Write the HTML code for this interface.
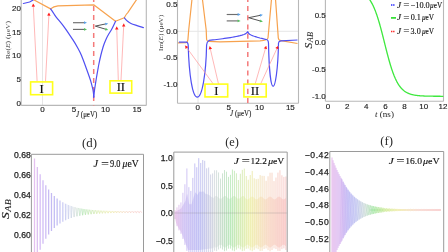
<!DOCTYPE html>
<html><head><meta charset="utf-8"><title>figure</title>
<style>html,body{margin:0;padding:0;background:#fff;width:448px;height:252px;overflow:hidden} svg{display:block}</style>
</head><body><svg width="448" height="252" viewBox="0 0 448 252"><rect width="448" height="252" fill="#fff"/><line x1="42.50" y1="0.00" x2="42.50" y2="105.40" stroke="#e6e6e6" stroke-width="1" />
<line x1="21.20" y1="-1.00" x2="21.20" y2="105.40" stroke="#b8b8b8" stroke-width="1.1" />
<line x1="21.20" y1="105.40" x2="146.30" y2="105.40" stroke="#b8b8b8" stroke-width="1.1" />
<line x1="146.30" y1="-1.00" x2="146.30" y2="105.40" stroke="#b8b8b8" stroke-width="1.1" />
<text x="21.00" y="8.60" font-size="8.0" text-anchor="end" dominant-baseline="central" style="font-family:'Liberation Sans',sans-serif;" fill="#222" stroke="#222" stroke-width="0.15">20</text>
<text x="21.00" y="32.40" font-size="8.0" text-anchor="end" dominant-baseline="central" style="font-family:'Liberation Sans',sans-serif;" fill="#222" stroke="#222" stroke-width="0.15">15</text>
<text x="21.00" y="55.70" font-size="8.0" text-anchor="end" dominant-baseline="central" style="font-family:'Liberation Sans',sans-serif;" fill="#222" stroke="#222" stroke-width="0.15">10</text>
<text x="21.00" y="79.50" font-size="8.0" text-anchor="end" dominant-baseline="central" style="font-family:'Liberation Sans',sans-serif;" fill="#222" stroke="#222" stroke-width="0.15">5</text>
<text x="21.00" y="103.00" font-size="8.0" text-anchor="end" dominant-baseline="central" style="font-family:'Liberation Sans',sans-serif;" fill="#222" stroke="#222" stroke-width="0.15">0</text>
<text x="42.50" y="109.80" font-size="8.0" text-anchor="middle" dominant-baseline="central" style="font-family:'Liberation Sans',sans-serif;" fill="#222" stroke="#222" stroke-width="0.15">0</text>
<text x="74.00" y="109.80" font-size="8.0" text-anchor="middle" dominant-baseline="central" style="font-family:'Liberation Sans',sans-serif;" fill="#222" stroke="#222" stroke-width="0.15">5</text>
<text x="105.50" y="109.80" font-size="8.0" text-anchor="middle" dominant-baseline="central" style="font-family:'Liberation Sans',sans-serif;" fill="#222" stroke="#222" stroke-width="0.15">10</text>
<text x="137.00" y="109.80" font-size="8.0" text-anchor="middle" dominant-baseline="central" style="font-family:'Liberation Sans',sans-serif;" fill="#222" stroke="#222" stroke-width="0.15">15</text>
<text x="76.00" y="117.40" font-size="7.3" text-anchor="start" style="font-family:'Liberation Serif',serif" fill="#222" textLength="21.30" lengthAdjust="spacingAndGlyphs" stroke="#222" stroke-width="0.12"><tspan font-style="italic">J</tspan> (μeV)</text>
<text transform="translate(10.40,40.00) rotate(-90)" x="0" y="0" font-size="6.8" text-anchor="middle" style="font-family:'Liberation Serif',serif" fill="#444" stroke="#444" stroke-width="0" textLength="38.10" lengthAdjust="spacingAndGlyphs">Re(<tspan font-style="italic">E</tspan>) (μeV)</text>
<line x1="93.70" y1="0.00" x2="93.70" y2="105.40" stroke="#f47a7a" stroke-width="1.5" stroke-dasharray="5.0 4.00" stroke-dashoffset="3.00"/>
<polyline points="23.40,3.50 29.60,2.00 33.20,0.00" fill="none" stroke="#4f4ff2" stroke-width="1.2" stroke-linejoin="round" stroke-linecap="round" />
<polyline points="33.20,-0.50 50.60,8.90" fill="none" stroke="#f7a24e" stroke-width="1.2" stroke-linejoin="round" stroke-linecap="round" />
<path d="M50.6,8.9 Q53.5,6.3 58,5.9 L93.7,4.8 L115.5,21.2 L124.3,17.7 C125.5,15.5 126.5,13.8 127.8,12.6 L137,-1" fill="none" stroke="#f7a24e" stroke-width="1.2" stroke-linejoin="round"/>
<path d="M50.60,8.90 C51.00,9.47 52.10,10.98 53.00,12.30 C53.90,13.62 54.03,14.22 56.00,16.80 C57.97,19.38 62.00,23.98 64.80,27.80 C67.60,31.62 70.68,36.42 72.80,39.70 C74.92,42.98 76.05,44.87 77.50,47.50 C78.95,50.13 79.93,51.75 81.50,55.50 C83.07,59.25 85.42,65.92 86.90,70.00 C88.38,74.08 89.58,77.50 90.40,80.00 C91.22,82.50 91.38,83.42 91.80,85.00 C92.22,86.58 92.62,88.08 92.90,89.50 C93.18,90.92 93.37,92.22 93.50,93.50 C93.63,94.78 93.67,96.58 93.70,97.20" fill="none" stroke="#4f4ff2" stroke-width="1.2" stroke-linejoin="round" stroke-linecap="round"/>
<path d="M93.70,97.20 C93.85,95.92 94.33,91.53 94.60,89.50 C94.87,87.47 95.00,86.92 95.30,85.00 C95.60,83.08 95.98,80.50 96.40,78.00 C96.82,75.50 97.38,72.33 97.80,70.00 C98.22,67.67 98.38,66.50 98.90,64.00 C99.42,61.50 100.25,57.67 100.90,55.00 C101.55,52.33 102.25,49.87 102.80,48.00 C103.35,46.13 103.60,45.38 104.20,43.80 C104.80,42.22 105.62,40.17 106.40,38.50 C107.18,36.83 107.95,35.47 108.90,33.80 C109.85,32.13 111.00,30.57 112.10,28.50 C113.20,26.43 114.93,22.58 115.50,21.40" fill="none" stroke="#4f4ff2" stroke-width="1.2" stroke-linejoin="round" stroke-linecap="round"/>
<path d="M124.40,17.90 C124.93,18.47 126.50,20.37 127.60,21.30 C128.70,22.23 129.43,22.78 131.00,23.50 C132.57,24.22 134.93,24.92 137.00,25.60 C139.07,26.28 142.33,27.27 143.40,27.60" fill="none" stroke="#4f4ff2" stroke-width="1.2" stroke-linejoin="round" stroke-linecap="round"/>
<line x1="37.10" y1="81.40" x2="33.20" y2="3.70" stroke="#ff9a9a" stroke-width="0.7" />
<polygon points="33.20,3.70 35.09,6.51 31.60,6.68" fill="#ff1a1a"/>
<line x1="45.50" y1="81.40" x2="49.00" y2="12.80" stroke="#ff9a9a" stroke-width="0.7" />
<polygon points="49.00,12.80 50.60,15.79 47.10,15.61" fill="#ff1a1a"/>
<line x1="118.30" y1="80.00" x2="116.70" y2="26.60" stroke="#ff9a9a" stroke-width="0.7" />
<polygon points="116.70,26.60 118.54,29.45 115.04,29.55" fill="#ff1a1a"/>
<line x1="121.00" y1="80.00" x2="123.80" y2="23.60" stroke="#ff9a9a" stroke-width="0.7" />
<polygon points="123.80,23.60 125.40,26.58 121.91,26.41" fill="#ff1a1a"/>
<rect x="30.60" y="81.90" width="22.00" height="12.80" fill="none" stroke="#ffff1a" stroke-width="1.6"/>
<text x="41.60" y="92.50" font-size="12.6" text-anchor="middle" style="font-family:'Liberation Serif',serif" fill="#111" stroke="#111" stroke-width="0.18">I</text>
<rect x="110.00" y="80.80" width="21.70" height="12.30" fill="none" stroke="#ffff1a" stroke-width="1.6"/>
<text x="120.85" y="91.15" font-size="12.6" text-anchor="middle" style="font-family:'Liberation Serif',serif" fill="#111" stroke="#111" stroke-width="0.18">II</text>
<line x1="73.00" y1="22.70" x2="84.40" y2="22.70" stroke="#6e6e6e" stroke-width="1.15" />
<polygon points="87.00,22.70 84.00,21.30 84.00,24.10" fill="#5aa0e6"/>
<line x1="73.00" y1="29.40" x2="84.40" y2="29.40" stroke="#6e6e6e" stroke-width="1.15" />
<polygon points="87.00,29.40 84.00,28.00 84.00,30.80" fill="#55c060"/>
<line x1="95.30" y1="26.10" x2="105.66" y2="23.93" stroke="#555" stroke-width="1.0" />
<polygon points="108.20,23.40 105.55,25.38 104.98,22.64" fill="#5aa0e6"/>
<line x1="95.30" y1="26.10" x2="105.71" y2="29.25" stroke="#555" stroke-width="1.0" />
<polygon points="108.20,30.00 104.92,30.47 105.73,27.79" fill="#55c060"/>
<line x1="177.50" y1="31.30" x2="298.50" y2="31.30" stroke="#e6e6e6" stroke-width="1" />
<line x1="198.00" y1="0.00" x2="198.00" y2="103.30" stroke="#e6e6e6" stroke-width="1" />
<line x1="177.50" y1="-1.00" x2="177.50" y2="103.30" stroke="#b8b8b8" stroke-width="1.1" />
<line x1="177.50" y1="103.30" x2="298.50" y2="103.30" stroke="#b8b8b8" stroke-width="1.1" />
<line x1="298.50" y1="-1.00" x2="298.50" y2="103.30" stroke="#b8b8b8" stroke-width="1.1" />
<text x="177.40" y="4.10" font-size="8.0" text-anchor="end" dominant-baseline="central" style="font-family:'Liberation Sans',sans-serif;" fill="#222" stroke="#222" stroke-width="0.15">0.5</text>
<text x="177.40" y="31.00" font-size="8.0" text-anchor="end" dominant-baseline="central" style="font-family:'Liberation Sans',sans-serif;" fill="#222" stroke="#222" stroke-width="0.15">0.0</text>
<text x="177.40" y="57.70" font-size="8.0" text-anchor="end" dominant-baseline="central" style="font-family:'Liberation Sans',sans-serif;" fill="#222" stroke="#222" stroke-width="0.15">-0.5</text>
<text x="177.40" y="84.10" font-size="8.0" text-anchor="end" dominant-baseline="central" style="font-family:'Liberation Sans',sans-serif;" fill="#222" stroke="#222" stroke-width="0.15">-1.0</text>
<text x="197.80" y="107.90" font-size="8.0" text-anchor="middle" dominant-baseline="central" style="font-family:'Liberation Sans',sans-serif;" fill="#222" stroke="#222" stroke-width="0.15">0</text>
<text x="228.65" y="107.90" font-size="8.0" text-anchor="middle" dominant-baseline="central" style="font-family:'Liberation Sans',sans-serif;" fill="#222" stroke="#222" stroke-width="0.15">5</text>
<text x="259.50" y="107.90" font-size="8.0" text-anchor="middle" dominant-baseline="central" style="font-family:'Liberation Sans',sans-serif;" fill="#222" stroke="#222" stroke-width="0.15">10</text>
<text x="290.35" y="107.90" font-size="8.0" text-anchor="middle" dominant-baseline="central" style="font-family:'Liberation Sans',sans-serif;" fill="#222" stroke="#222" stroke-width="0.15">15</text>
<text x="230.10" y="116.40" font-size="7.3" text-anchor="start" style="font-family:'Liberation Serif',serif" fill="#222" textLength="21.30" lengthAdjust="spacingAndGlyphs" stroke="#222" stroke-width="0.12"><tspan font-style="italic">J</tspan> (μeV)</text>
<text transform="translate(162.60,32.90) rotate(-90)" x="0" y="0" font-size="6.8" text-anchor="middle" style="font-family:'Liberation Serif',serif" fill="#444" stroke="#444" stroke-width="0" textLength="36.20" lengthAdjust="spacingAndGlyphs">Im(<tspan font-style="italic">E</tspan>) (μeV)</text>
<line x1="247.80" y1="0.00" x2="247.80" y2="103.30" stroke="#f47a7a" stroke-width="1.5" stroke-dasharray="5.1 4.10" stroke-dashoffset="3.20"/>
<path d="M178,42.8 L186,42.6 Q187.6,42.4 187.9,40 L188.7,30 L192,-1" fill="none" stroke="#f7a24e" stroke-width="1.2" stroke-linejoin="round"/>
<path d="M202.4,-1 L206.2,30 L206.6,39.5 Q206.8,41.2 209,41.3 L220,41.8 L260,40.8 Q267.6,40.4 268,38 L271.5,-1" fill="none" stroke="#f7a24e" stroke-width="1.2" stroke-linejoin="round"/>
<path d="M275.5,-1 L278.3,38 Q278.6,40.5 281,40.7 L297.5,43.5" fill="none" stroke="#f7a24e" stroke-width="1.2" stroke-linejoin="round"/>
<path d="M178.9,42.1 L186.5,42.1 Q187.9,42.2 188.2,45 C189,75 192.5,97.1 197.3,97.1 C202,97.1 206,75 206.6,45 Q206.8,41.7 209.00,40.42 L209.00,40.42 L210.94,40.20 L212.88,39.97 L214.82,39.74 L216.76,39.50 L218.70,39.25 L220.64,39.00 L222.58,38.73 L224.52,38.45 L226.46,38.17 L228.40,37.87 L230.34,37.55 L232.28,37.22 L234.22,36.86 L236.16,36.48 L238.10,36.06 L240.04,35.60 L241.98,35.08 L243.92,34.46 L245.86,33.65 L247.80,31.70 L248.74,33.44 L249.67,34.16 L250.61,34.71 L251.54,35.18 L252.48,35.59 L253.41,35.96 L254.34,36.30 L255.28,36.62 L256.22,36.92 L257.15,37.20 L258.08,37.47 L259.02,37.73 L259.95,37.98 L260.89,38.21 L261.82,38.44 L262.76,38.66 L263.69,38.88 L264.63,39.08 L265.56,39.29 L266.50,39.48 Q268.3,39.8 268.5,43 C269,70 271,86.4 273.1,86.4 C275.2,86.4 278,70 278.5,43 Q278.7,41 281,40.8 L297.5,40" fill="none" stroke="#4f4ff2" stroke-width="1.2" stroke-linejoin="round"/>
<line x1="213.30" y1="84.00" x2="185.20" y2="45.60" stroke="#ff9a9a" stroke-width="0.7" />
<polygon points="185.20,45.60 188.32,46.91 185.50,48.97" fill="#ff1a1a"/>
<line x1="218.50" y1="84.00" x2="209.70" y2="46.30" stroke="#ff9a9a" stroke-width="0.7" />
<polygon points="209.70,46.30 212.06,48.73 208.66,49.52" fill="#ff1a1a"/>
<line x1="255.20" y1="83.80" x2="266.20" y2="46.00" stroke="#ff9a9a" stroke-width="0.7" />
<polygon points="266.20,46.00 267.07,49.27 263.71,48.30" fill="#ff1a1a"/>
<line x1="260.70" y1="83.80" x2="278.10" y2="46.00" stroke="#ff9a9a" stroke-width="0.7" />
<polygon points="278.10,46.00 278.48,49.37 275.30,47.90" fill="#ff1a1a"/>
<rect x="205.00" y="84.10" width="22.70" height="12.80" fill="none" stroke="#ffff1a" stroke-width="1.6"/>
<text x="216.35" y="94.70" font-size="12.6" text-anchor="middle" style="font-family:'Liberation Serif',serif" fill="#111" stroke="#111" stroke-width="0.18">I</text>
<rect x="243.90" y="84.10" width="22.30" height="12.80" fill="none" stroke="#ffff1a" stroke-width="1.6"/>
<text x="255.05" y="94.70" font-size="12.6" text-anchor="middle" style="font-family:'Liberation Serif',serif" fill="#111" stroke="#111" stroke-width="0.18">II</text>
<line x1="226.70" y1="14.50" x2="238.00" y2="14.50" stroke="#6e6e6e" stroke-width="1.15" />
<polygon points="240.60,14.50 237.60,13.10 237.60,15.90" fill="#5aa0e6"/>
<line x1="226.70" y1="20.90" x2="238.00" y2="20.90" stroke="#6e6e6e" stroke-width="1.15" />
<polygon points="240.60,20.90 237.60,19.50 237.60,22.30" fill="#55c060"/>
<line x1="248.60" y1="17.70" x2="260.35" y2="15.32" stroke="#555" stroke-width="1.0" />
<polygon points="262.90,14.80 260.24,16.77 259.68,14.02" fill="#5aa0e6"/>
<line x1="248.60" y1="17.70" x2="260.40" y2="21.00" stroke="#555" stroke-width="1.0" />
<polygon points="262.90,21.70 259.63,22.24 260.39,19.54" fill="#55c060"/>
<line x1="325.40" y1="-1.00" x2="325.40" y2="101.30" stroke="#b8b8b8" stroke-width="1.1" />
<line x1="325.40" y1="101.30" x2="443.50" y2="101.30" stroke="#b8b8b8" stroke-width="1.1" />
<line x1="443.50" y1="-1.00" x2="443.50" y2="101.30" stroke="#b8b8b8" stroke-width="1.1" />
<text x="325.80" y="15.90" font-size="8.0" text-anchor="end" dominant-baseline="central" style="font-family:'Liberation Sans',sans-serif;" fill="#222" stroke="#222" stroke-width="0.15">0.5</text>
<text x="325.80" y="42.70" font-size="8.0" text-anchor="end" dominant-baseline="central" style="font-family:'Liberation Sans',sans-serif;" fill="#222" stroke="#222" stroke-width="0.15">0.0</text>
<text x="325.80" y="69.50" font-size="8.0" text-anchor="end" dominant-baseline="central" style="font-family:'Liberation Sans',sans-serif;" fill="#222" stroke="#222" stroke-width="0.15">-0.5</text>
<text x="325.80" y="96.30" font-size="8.0" text-anchor="end" dominant-baseline="central" style="font-family:'Liberation Sans',sans-serif;" fill="#222" stroke="#222" stroke-width="0.15">-1.0</text>
<text x="328.00" y="106.40" font-size="8.0" text-anchor="middle" dominant-baseline="central" style="font-family:'Liberation Sans',sans-serif;" fill="#222" stroke="#222" stroke-width="0.15">0</text>
<text x="347.15" y="106.40" font-size="8.0" text-anchor="middle" dominant-baseline="central" style="font-family:'Liberation Sans',sans-serif;" fill="#222" stroke="#222" stroke-width="0.15">2</text>
<text x="366.30" y="106.40" font-size="8.0" text-anchor="middle" dominant-baseline="central" style="font-family:'Liberation Sans',sans-serif;" fill="#222" stroke="#222" stroke-width="0.15">4</text>
<text x="385.45" y="106.40" font-size="8.0" text-anchor="middle" dominant-baseline="central" style="font-family:'Liberation Sans',sans-serif;" fill="#222" stroke="#222" stroke-width="0.15">6</text>
<text x="404.60" y="106.40" font-size="8.0" text-anchor="middle" dominant-baseline="central" style="font-family:'Liberation Sans',sans-serif;" fill="#222" stroke="#222" stroke-width="0.15">8</text>
<text x="423.75" y="106.40" font-size="8.0" text-anchor="middle" dominant-baseline="central" style="font-family:'Liberation Sans',sans-serif;" fill="#222" stroke="#222" stroke-width="0.15">10</text>
<text x="442.90" y="106.40" font-size="8.0" text-anchor="middle" dominant-baseline="central" style="font-family:'Liberation Sans',sans-serif;" fill="#222" stroke="#222" stroke-width="0.15">12</text>
<text x="375.10" y="116.90" font-size="8" text-anchor="start" style="font-family:'Liberation Serif',serif" fill="#222" textLength="18.80" lengthAdjust="spacingAndGlyphs" ><tspan font-style="italic">t</tspan> (ns)</text>
<text transform="translate(311.9,48.4) rotate(-90) scale(1.15,1)" font-size="10.0" style="font-family:'Liberation Serif',serif" fill="#222" stroke="#222" stroke-width="0.12"><tspan font-style="italic">S</tspan><tspan font-style="italic" font-size="7.2" dy="1" dx="0.3" letter-spacing="0.2" stroke-width="0.05">AB</tspan></text>
<polyline points="368.60,-1.74 368.89,-1.37 369.18,-0.99 369.47,-0.60 369.76,-0.19 370.04,0.23 370.33,0.66 370.62,1.11 370.91,1.58 371.20,2.06 371.48,2.56 371.77,3.07 372.06,3.60 372.35,4.15 372.64,4.71 372.92,5.30 373.21,5.90 373.50,6.51 373.79,7.15 374.08,7.80 374.36,8.48 374.65,9.17 374.94,9.88 375.23,10.61 375.52,11.36 375.80,12.12 376.09,12.91 376.38,13.71 376.67,14.54 376.95,15.38 377.24,16.24 377.53,17.12 377.82,18.02 378.11,18.94 378.39,19.87 378.68,20.82 378.97,21.79 379.26,22.77 379.55,23.77 379.83,24.79 380.12,25.82 380.41,26.86 380.70,27.92 380.99,28.99 381.27,30.07 381.56,31.17 381.85,32.27 382.14,33.38 382.43,34.50 382.71,35.63 383.00,36.77 383.29,37.91 383.58,39.05 383.87,40.20 384.15,41.35 384.44,42.50 384.73,43.65 385.02,44.80 385.31,45.95 385.59,47.09 385.88,48.24 386.17,49.37 386.46,50.50 386.75,51.63 387.03,52.74 387.32,53.85 387.61,54.94 387.90,56.03 388.19,57.10 388.47,58.17 388.76,59.22 389.05,60.25 389.34,61.27 389.63,62.28 389.91,63.27 390.20,64.24 390.49,65.20 390.78,66.14 391.07,67.06 391.35,67.96 391.64,68.85 391.93,69.72 392.22,70.57 392.51,71.40 392.79,72.21 393.08,73.00 393.37,73.78 393.66,74.53 393.95,75.27 394.23,75.99 394.52,76.68 394.81,77.36 395.10,78.02 395.38,78.67 395.67,79.29 395.96,79.90 396.25,80.48 396.54,81.05 396.82,81.61 397.11,82.14 397.40,82.66 397.69,83.17 397.98,83.65 398.26,84.13 398.55,84.58 398.84,85.02 399.13,85.45 399.42,85.86 399.70,86.26 399.99,86.64 400.28,87.01 400.57,87.37 400.86,87.72 401.14,88.05 401.43,88.37 401.72,88.68 402.01,88.98 402.30,89.27 402.58,89.54 402.87,89.81 403.16,90.07 403.45,90.32 403.74,90.55 404.02,90.78 404.31,91.00 404.60,91.22 404.89,91.42 405.18,91.62 405.46,91.80 405.75,91.99 406.04,92.16 406.33,92.33 406.62,92.49 406.90,92.64 407.19,92.79 407.48,92.94 407.77,93.07 408.06,93.20 408.34,93.33 408.63,93.45 408.92,93.57 409.21,93.68 409.50,93.79 409.78,93.89 410.07,93.99 410.36,94.09 410.65,94.18 410.94,94.27 411.22,94.35 411.51,94.43 411.80,94.51 412.09,94.58 412.38,94.65 412.66,94.72 412.95,94.79 413.24,94.85 413.53,94.91 413.82,94.97 414.10,95.02 414.39,95.08 414.68,95.13 414.97,95.18 415.25,95.22 415.54,95.27 415.83,95.31 416.12,95.35 416.41,95.39 416.69,95.43 416.98,95.47 417.27,95.50 417.56,95.53 417.85,95.57 418.13,95.60 418.42,95.63 418.71,95.65 419.00,95.68 419.29,95.71 419.57,95.73 419.86,95.76 420.15,95.78 420.44,95.80 420.73,95.82 421.01,95.84 421.30,95.86 421.59,95.88 421.88,95.90 422.17,95.91 422.45,95.93 422.74,95.94 423.03,95.96 423.32,95.97 423.61,95.99 423.89,96.00 424.18,96.01 424.47,96.03 424.76,96.04 425.05,96.05 425.33,96.06 425.62,96.07 425.91,96.08 426.20,96.09 426.49,96.10 426.77,96.11 427.06,96.11 427.35,96.12 427.64,96.13 427.93,96.14 428.21,96.14 428.50,96.15 428.79,96.16 429.08,96.16 429.37,96.17 429.65,96.17 429.94,96.18 430.23,96.18 430.52,96.19 430.81,96.19 431.09,96.20 431.38,96.20 431.67,96.21 431.96,96.21 432.25,96.21 432.53,96.22 432.82,96.22 433.11,96.22 433.40,96.23 433.68,96.23 433.97,96.23 434.26,96.24 434.55,96.24 434.84,96.24 435.12,96.24 435.41,96.25 435.70,96.25 435.99,96.25 436.28,96.25 436.56,96.25 436.85,96.26 437.14,96.26 437.43,96.26 437.72,96.26 438.00,96.26 438.29,96.27 438.58,96.27 438.87,96.27 439.16,96.27 439.44,96.27 439.73,96.27 440.02,96.27 440.31,96.27 440.60,96.28 440.88,96.28 441.17,96.28 441.46,96.28 441.75,96.28 442.04,96.28 442.32,96.28 442.61,96.28 442.90,96.28" fill="none" stroke="#3ee83e" stroke-width="1.3" stroke-linejoin="round" stroke-linecap="round" />
<line x1="391.00" y1="5.00" x2="394.60" y2="5.00" stroke="#2a2aff" stroke-width="1.6" stroke-dasharray="1.4 0.7"/>
<text x="397.02" y="7.50" font-size="7.4" font-style="italic" style="font-family:'Liberation Serif',serif" fill="#111" stroke="#111" stroke-width="0.12" textLength="4.07" lengthAdjust="spacingAndGlyphs">J</text>
<text x="403.25" y="8.39" font-size="9.620000000000001" style="font-family:'Liberation Serif',serif" fill="#111" stroke="#111" stroke-width="0" textLength="6.24" lengthAdjust="spacingAndGlyphs">=</text>
<text x="410.59" y="7.50" font-size="7.4" style="font-family:'Liberation Serif',serif" fill="#111" stroke="#111" stroke-width="0.12" textLength="19.20" lengthAdjust="spacingAndGlyphs">−10.0</text>
<text x="430.10" y="7.50" font-size="7.4" style="font-family:'Liberation Serif',serif" fill="#111" stroke="#111" stroke-width="0.12" textLength="12.13" lengthAdjust="spacingAndGlyphs"><tspan font-style="italic">μ</tspan>eV</text>
<line x1="391.00" y1="17.90" x2="396.00" y2="17.90" stroke="#22dd22" stroke-width="1.6" />
<text x="397.02" y="19.90" font-size="7.4" font-style="italic" style="font-family:'Liberation Serif',serif" fill="#111" stroke="#111" stroke-width="0.12" textLength="4.07" lengthAdjust="spacingAndGlyphs">J</text>
<text x="403.25" y="20.79" font-size="9.620000000000001" style="font-family:'Liberation Serif',serif" fill="#111" stroke="#111" stroke-width="0" textLength="6.24" lengthAdjust="spacingAndGlyphs">=</text>
<text x="410.67" y="19.90" font-size="7.4" style="font-family:'Liberation Serif',serif" fill="#111" stroke="#111" stroke-width="0.12" textLength="10.22" lengthAdjust="spacingAndGlyphs">0.1</text>
<text x="421.90" y="19.90" font-size="7.4" style="font-family:'Liberation Serif',serif" fill="#111" stroke="#111" stroke-width="0.12" textLength="12.23" lengthAdjust="spacingAndGlyphs"><tspan font-style="italic">μ</tspan>eV</text>
<line x1="391.00" y1="31.50" x2="394.60" y2="31.50" stroke="#ff2a2a" stroke-width="1.6" stroke-dasharray="1.4 0.7"/>
<text x="397.02" y="33.50" font-size="7.4" font-style="italic" style="font-family:'Liberation Serif',serif" fill="#111" stroke="#111" stroke-width="0.12" textLength="4.07" lengthAdjust="spacingAndGlyphs">J</text>
<text x="403.25" y="34.39" font-size="9.620000000000001" style="font-family:'Liberation Serif',serif" fill="#111" stroke="#111" stroke-width="0" textLength="6.24" lengthAdjust="spacingAndGlyphs">=</text>
<text x="410.59" y="33.50" font-size="7.4" style="font-family:'Liberation Serif',serif" fill="#111" stroke="#111" stroke-width="0.12" textLength="10.13" lengthAdjust="spacingAndGlyphs">3.0</text>
<text x="421.90" y="33.50" font-size="7.4" style="font-family:'Liberation Serif',serif" fill="#111" stroke="#111" stroke-width="0.12" textLength="12.23" lengthAdjust="spacingAndGlyphs"><tspan font-style="italic">μ</tspan>eV</text>
<clipPath id="cd"><rect x="31.4" y="154.3" width="112.1" height="97.69999999999999"/></clipPath>
<line x1="34.50" y1="158.40" x2="34.50" y2="265.60" stroke="rgb(226, 186, 238)" stroke-width="1.25" stroke-opacity="0.90" clip-path="url(#cd)"/>
<line x1="37.33" y1="166.99" x2="37.33" y2="257.01" stroke="rgb(216, 183, 240)" stroke-width="1.25" stroke-opacity="0.90" clip-path="url(#cd)"/>
<line x1="40.16" y1="174.19" x2="40.16" y2="249.81" stroke="rgb(207, 180, 243)" stroke-width="1.25" stroke-opacity="0.90" clip-path="url(#cd)"/>
<line x1="42.99" y1="180.22" x2="42.99" y2="243.78" stroke="rgb(202, 179, 243)" stroke-width="1.25" stroke-opacity="0.90" clip-path="url(#cd)"/>
<line x1="45.82" y1="185.28" x2="45.82" y2="238.72" stroke="rgb(198, 179, 243)" stroke-width="1.25" stroke-opacity="0.90" clip-path="url(#cd)"/>
<line x1="48.65" y1="189.51" x2="48.65" y2="234.49" stroke="rgb(194, 178, 242)" stroke-width="1.25" stroke-opacity="0.90" clip-path="url(#cd)"/>
<line x1="51.48" y1="193.06" x2="51.48" y2="230.94" stroke="rgb(190, 178, 242)" stroke-width="1.25" stroke-opacity="0.90" clip-path="url(#cd)"/>
<line x1="54.31" y1="196.03" x2="54.31" y2="227.97" stroke="rgb(186, 178, 242)" stroke-width="1.25" stroke-opacity="0.90" clip-path="url(#cd)"/>
<line x1="57.14" y1="198.52" x2="57.14" y2="225.48" stroke="rgb(184, 179, 241)" stroke-width="1.25" stroke-opacity="0.88" clip-path="url(#cd)"/>
<line x1="59.97" y1="200.61" x2="59.97" y2="223.39" stroke="rgb(184, 182, 240)" stroke-width="1.25" stroke-opacity="0.78" clip-path="url(#cd)"/>
<line x1="62.80" y1="202.36" x2="62.80" y2="221.64" stroke="rgb(184, 185, 239)" stroke-width="1.25" stroke-opacity="0.70" clip-path="url(#cd)"/>
<line x1="62.80" y1="221.64" x2="64.21" y2="203.13" stroke="rgb(184, 185, 239)" stroke-width="0.75" stroke-opacity="0.10" clip-path="url(#cd)"/>
<line x1="64.21" y1="203.13" x2="65.63" y2="220.17" stroke="rgb(184, 185, 239)" stroke-width="0.75" stroke-opacity="0.10" clip-path="url(#cd)"/>
<line x1="65.63" y1="203.83" x2="65.63" y2="220.17" stroke="rgb(184, 189, 238)" stroke-width="1.25" stroke-opacity="0.64" clip-path="url(#cd)"/>
<line x1="65.63" y1="220.17" x2="67.04" y2="204.47" stroke="rgb(184, 189, 238)" stroke-width="0.75" stroke-opacity="0.21" clip-path="url(#cd)"/>
<line x1="67.04" y1="204.47" x2="68.46" y2="218.95" stroke="rgb(184, 189, 238)" stroke-width="0.75" stroke-opacity="0.21" clip-path="url(#cd)"/>
<line x1="68.46" y1="205.05" x2="68.46" y2="218.95" stroke="rgb(188, 195, 231)" stroke-width="1.25" stroke-opacity="0.58" clip-path="url(#cd)"/>
<line x1="68.46" y1="218.95" x2="69.87" y2="205.59" stroke="rgb(188, 195, 231)" stroke-width="0.75" stroke-opacity="0.29" clip-path="url(#cd)"/>
<line x1="69.87" y1="205.59" x2="71.29" y2="217.92" stroke="rgb(188, 195, 231)" stroke-width="0.75" stroke-opacity="0.29" clip-path="url(#cd)"/>
<line x1="71.29" y1="206.08" x2="71.29" y2="217.92" stroke="rgb(194, 204, 222)" stroke-width="1.25" stroke-opacity="0.54" clip-path="url(#cd)"/>
<line x1="71.29" y1="217.92" x2="72.70" y2="206.53" stroke="rgb(194, 204, 222)" stroke-width="0.75" stroke-opacity="0.37" clip-path="url(#cd)"/>
<line x1="72.70" y1="206.53" x2="74.12" y2="217.06" stroke="rgb(194, 204, 222)" stroke-width="0.75" stroke-opacity="0.37" clip-path="url(#cd)"/>
<line x1="74.12" y1="206.94" x2="74.12" y2="217.06" stroke="rgb(199, 212, 212)" stroke-width="1.25" stroke-opacity="0.50" clip-path="url(#cd)"/>
<line x1="74.12" y1="217.06" x2="75.53" y2="207.32" stroke="rgb(199, 212, 212)" stroke-width="0.75" stroke-opacity="0.43" clip-path="url(#cd)"/>
<line x1="75.53" y1="207.32" x2="76.95" y2="216.33" stroke="rgb(199, 212, 212)" stroke-width="0.75" stroke-opacity="0.43" clip-path="url(#cd)"/>
<line x1="76.95" y1="207.67" x2="76.95" y2="216.33" stroke="rgb(187, 216, 196)" stroke-width="1.25" stroke-opacity="0.46" clip-path="url(#cd)"/>
<line x1="76.95" y1="216.33" x2="78.36" y2="207.98" stroke="rgb(187, 216, 196)" stroke-width="0.75" stroke-opacity="0.48" clip-path="url(#cd)"/>
<line x1="78.36" y1="207.98" x2="79.78" y2="215.73" stroke="rgb(187, 216, 196)" stroke-width="0.75" stroke-opacity="0.48" clip-path="url(#cd)"/>
<line x1="79.78" y1="208.27" x2="79.78" y2="215.73" stroke="rgb(175, 220, 180)" stroke-width="1.25" stroke-opacity="0.44" clip-path="url(#cd)"/>
<line x1="79.78" y1="215.73" x2="81.19" y2="208.54" stroke="rgb(175, 220, 180)" stroke-width="0.75" stroke-opacity="0.53" clip-path="url(#cd)"/>
<line x1="81.19" y1="208.54" x2="82.61" y2="215.22" stroke="rgb(175, 220, 180)" stroke-width="0.75" stroke-opacity="0.53" clip-path="url(#cd)"/>
<line x1="82.61" y1="208.78" x2="82.61" y2="215.22" stroke="rgb(165, 225, 164)" stroke-width="1.25" stroke-opacity="0.41" clip-path="url(#cd)"/>
<line x1="82.61" y1="215.22" x2="84.02" y2="209.00" stroke="rgb(165, 225, 164)" stroke-width="0.75" stroke-opacity="0.57" clip-path="url(#cd)"/>
<line x1="84.02" y1="209.00" x2="85.44" y2="214.80" stroke="rgb(165, 225, 164)" stroke-width="0.75" stroke-opacity="0.57" clip-path="url(#cd)"/>
<line x1="85.44" y1="209.20" x2="85.44" y2="214.80" stroke="rgb(174, 226, 164)" stroke-width="1.25" stroke-opacity="0.40" clip-path="url(#cd)"/>
<line x1="85.44" y1="214.80" x2="86.85" y2="209.39" stroke="rgb(174, 226, 164)" stroke-width="0.75" stroke-opacity="0.60" clip-path="url(#cd)"/>
<line x1="86.85" y1="209.39" x2="88.27" y2="214.44" stroke="rgb(174, 226, 164)" stroke-width="0.75" stroke-opacity="0.60" clip-path="url(#cd)"/>
<line x1="88.27" y1="209.56" x2="88.27" y2="214.44" stroke="rgb(183, 227, 163)" stroke-width="1.25" stroke-opacity="0.38" clip-path="url(#cd)"/>
<line x1="88.27" y1="214.44" x2="89.68" y2="209.72" stroke="rgb(183, 227, 163)" stroke-width="0.75" stroke-opacity="0.62" clip-path="url(#cd)"/>
<line x1="89.68" y1="209.72" x2="91.10" y2="214.14" stroke="rgb(183, 227, 163)" stroke-width="0.75" stroke-opacity="0.62" clip-path="url(#cd)"/>
<line x1="91.10" y1="209.86" x2="91.10" y2="214.14" stroke="rgb(192, 228, 162)" stroke-width="1.25" stroke-opacity="0.37" clip-path="url(#cd)"/>
<line x1="91.10" y1="214.14" x2="92.51" y2="209.99" stroke="rgb(192, 228, 162)" stroke-width="0.75" stroke-opacity="0.64" clip-path="url(#cd)"/>
<line x1="92.51" y1="209.99" x2="93.93" y2="213.89" stroke="rgb(192, 228, 162)" stroke-width="0.75" stroke-opacity="0.64" clip-path="url(#cd)"/>
<line x1="93.93" y1="210.11" x2="93.93" y2="213.89" stroke="rgb(201, 230, 161)" stroke-width="1.25" stroke-opacity="0.36" clip-path="url(#cd)"/>
<line x1="93.93" y1="213.89" x2="95.34" y2="210.22" stroke="rgb(201, 230, 161)" stroke-width="0.75" stroke-opacity="0.66" clip-path="url(#cd)"/>
<line x1="95.34" y1="210.22" x2="96.76" y2="213.68" stroke="rgb(201, 230, 161)" stroke-width="0.75" stroke-opacity="0.66" clip-path="url(#cd)"/>
<line x1="96.76" y1="210.32" x2="96.76" y2="213.68" stroke="rgb(209, 231, 160)" stroke-width="1.25" stroke-opacity="0.35" clip-path="url(#cd)"/>
<line x1="96.76" y1="213.68" x2="98.17" y2="210.41" stroke="rgb(209, 231, 160)" stroke-width="0.75" stroke-opacity="0.68" clip-path="url(#cd)"/>
<line x1="98.17" y1="210.41" x2="99.59" y2="213.51" stroke="rgb(209, 231, 160)" stroke-width="0.75" stroke-opacity="0.68" clip-path="url(#cd)"/>
<line x1="99.59" y1="210.49" x2="99.59" y2="213.51" stroke="rgb(217, 232, 160)" stroke-width="1.25" stroke-opacity="0.34" clip-path="url(#cd)"/>
<line x1="99.59" y1="213.51" x2="101.00" y2="210.57" stroke="rgb(217, 232, 160)" stroke-width="0.75" stroke-opacity="0.69" clip-path="url(#cd)"/>
<line x1="101.00" y1="210.57" x2="102.42" y2="213.36" stroke="rgb(217, 232, 160)" stroke-width="0.75" stroke-opacity="0.69" clip-path="url(#cd)"/>
<line x1="102.42" y1="210.64" x2="102.42" y2="213.36" stroke="rgb(222, 232, 161)" stroke-width="1.25" stroke-opacity="0.33" clip-path="url(#cd)"/>
<line x1="102.42" y1="213.36" x2="103.83" y2="210.70" stroke="rgb(222, 232, 161)" stroke-width="0.75" stroke-opacity="0.70" clip-path="url(#cd)"/>
<line x1="103.83" y1="210.70" x2="105.25" y2="213.24" stroke="rgb(222, 232, 161)" stroke-width="0.75" stroke-opacity="0.70" clip-path="url(#cd)"/>
<line x1="105.25" y1="210.76" x2="105.25" y2="213.24" stroke="rgb(227, 232, 162)" stroke-width="1.25" stroke-opacity="0.33" clip-path="url(#cd)"/>
<line x1="105.25" y1="213.24" x2="106.66" y2="210.82" stroke="rgb(227, 232, 162)" stroke-width="0.75" stroke-opacity="0.71" clip-path="url(#cd)"/>
<line x1="106.66" y1="210.82" x2="108.08" y2="213.13" stroke="rgb(227, 232, 162)" stroke-width="0.75" stroke-opacity="0.71" clip-path="url(#cd)"/>
<line x1="108.08" y1="210.87" x2="108.08" y2="213.13" stroke="rgb(232, 232, 163)" stroke-width="1.25" stroke-opacity="0.32" clip-path="url(#cd)"/>
<line x1="108.08" y1="213.13" x2="109.49" y2="210.91" stroke="rgb(232, 232, 163)" stroke-width="0.75" stroke-opacity="0.72" clip-path="url(#cd)"/>
<line x1="109.49" y1="210.91" x2="110.91" y2="213.05" stroke="rgb(232, 232, 163)" stroke-width="0.75" stroke-opacity="0.72" clip-path="url(#cd)"/>
<line x1="110.91" y1="210.95" x2="110.91" y2="213.05" stroke="rgb(237, 232, 164)" stroke-width="1.25" stroke-opacity="0.32" clip-path="url(#cd)"/>
<line x1="110.91" y1="213.05" x2="112.32" y2="210.99" stroke="rgb(237, 232, 164)" stroke-width="0.75" stroke-opacity="0.72" clip-path="url(#cd)"/>
<line x1="112.32" y1="210.99" x2="113.74" y2="212.97" stroke="rgb(237, 232, 164)" stroke-width="0.75" stroke-opacity="0.72" clip-path="url(#cd)"/>
<line x1="113.74" y1="211.03" x2="113.74" y2="212.97" stroke="rgb(239, 227, 168)" stroke-width="1.25" stroke-opacity="0.31" clip-path="url(#cd)"/>
<line x1="113.74" y1="212.97" x2="115.15" y2="211.06" stroke="rgb(239, 227, 168)" stroke-width="0.75" stroke-opacity="0.73" clip-path="url(#cd)"/>
<line x1="115.15" y1="211.06" x2="116.57" y2="212.91" stroke="rgb(239, 227, 168)" stroke-width="0.75" stroke-opacity="0.73" clip-path="url(#cd)"/>
<line x1="116.57" y1="211.09" x2="116.57" y2="212.91" stroke="rgb(240, 223, 172)" stroke-width="1.25" stroke-opacity="0.31" clip-path="url(#cd)"/>
<line x1="116.57" y1="212.91" x2="117.98" y2="211.11" stroke="rgb(240, 223, 172)" stroke-width="0.75" stroke-opacity="0.73" clip-path="url(#cd)"/>
<line x1="117.98" y1="211.11" x2="119.40" y2="212.86" stroke="rgb(240, 223, 172)" stroke-width="0.75" stroke-opacity="0.73" clip-path="url(#cd)"/>
<line x1="119.40" y1="211.14" x2="119.40" y2="212.86" stroke="rgb(241, 218, 175)" stroke-width="1.25" stroke-opacity="0.31" clip-path="url(#cd)"/>
<line x1="119.40" y1="212.86" x2="120.81" y2="211.16" stroke="rgb(241, 218, 175)" stroke-width="0.75" stroke-opacity="0.74" clip-path="url(#cd)"/>
<line x1="120.81" y1="211.16" x2="122.23" y2="212.82" stroke="rgb(241, 218, 175)" stroke-width="0.75" stroke-opacity="0.74" clip-path="url(#cd)"/>
<line x1="122.23" y1="211.18" x2="122.23" y2="212.82" stroke="rgb(242, 213, 179)" stroke-width="1.25" stroke-opacity="0.31" clip-path="url(#cd)"/>
<line x1="122.23" y1="212.82" x2="123.64" y2="211.20" stroke="rgb(242, 213, 179)" stroke-width="0.75" stroke-opacity="0.74" clip-path="url(#cd)"/>
<line x1="123.64" y1="211.20" x2="125.06" y2="212.78" stroke="rgb(242, 213, 179)" stroke-width="0.75" stroke-opacity="0.74" clip-path="url(#cd)"/>
<line x1="125.06" y1="211.22" x2="125.06" y2="212.78" stroke="rgb(243, 208, 183)" stroke-width="1.25" stroke-opacity="0.31" clip-path="url(#cd)"/>
<line x1="125.06" y1="212.78" x2="126.47" y2="211.23" stroke="rgb(243, 208, 183)" stroke-width="0.75" stroke-opacity="0.74" clip-path="url(#cd)"/>
<line x1="126.47" y1="211.23" x2="127.89" y2="212.75" stroke="rgb(243, 208, 183)" stroke-width="0.75" stroke-opacity="0.74" clip-path="url(#cd)"/>
<line x1="127.89" y1="211.25" x2="127.89" y2="212.75" stroke="rgb(244, 204, 186)" stroke-width="1.25" stroke-opacity="0.30" clip-path="url(#cd)"/>
<line x1="127.89" y1="212.75" x2="129.30" y2="211.26" stroke="rgb(244, 204, 186)" stroke-width="0.75" stroke-opacity="0.75" clip-path="url(#cd)"/>
<line x1="129.30" y1="211.26" x2="130.72" y2="212.73" stroke="rgb(244, 204, 186)" stroke-width="0.75" stroke-opacity="0.75" clip-path="url(#cd)"/>
<line x1="130.72" y1="211.27" x2="130.72" y2="212.73" stroke="rgb(246, 199, 190)" stroke-width="1.25" stroke-opacity="0.30" clip-path="url(#cd)"/>
<line x1="130.72" y1="212.73" x2="132.13" y2="211.28" stroke="rgb(246, 199, 190)" stroke-width="0.75" stroke-opacity="0.75" clip-path="url(#cd)"/>
<line x1="132.13" y1="211.28" x2="133.55" y2="212.71" stroke="rgb(246, 199, 190)" stroke-width="0.75" stroke-opacity="0.75" clip-path="url(#cd)"/>
<line x1="133.55" y1="211.29" x2="133.55" y2="212.71" stroke="rgb(246, 196, 190)" stroke-width="1.25" stroke-opacity="0.30" clip-path="url(#cd)"/>
<line x1="133.55" y1="212.71" x2="134.96" y2="211.30" stroke="rgb(246, 196, 190)" stroke-width="0.75" stroke-opacity="0.75" clip-path="url(#cd)"/>
<line x1="134.96" y1="211.30" x2="136.38" y2="212.69" stroke="rgb(246, 196, 190)" stroke-width="0.75" stroke-opacity="0.75" clip-path="url(#cd)"/>
<line x1="136.38" y1="211.31" x2="136.38" y2="212.69" stroke="rgb(246, 194, 190)" stroke-width="1.25" stroke-opacity="0.30" clip-path="url(#cd)"/>
<line x1="136.38" y1="212.69" x2="137.79" y2="211.32" stroke="rgb(246, 194, 190)" stroke-width="0.75" stroke-opacity="0.75" clip-path="url(#cd)"/>
<line x1="137.79" y1="211.32" x2="139.21" y2="212.68" stroke="rgb(246, 194, 190)" stroke-width="0.75" stroke-opacity="0.75" clip-path="url(#cd)"/>
<line x1="139.21" y1="211.32" x2="139.21" y2="212.68" stroke="rgb(246, 191, 190)" stroke-width="1.25" stroke-opacity="0.30" clip-path="url(#cd)"/>
<line x1="139.21" y1="212.68" x2="140.62" y2="211.33" stroke="rgb(246, 191, 190)" stroke-width="0.75" stroke-opacity="0.75" clip-path="url(#cd)"/>
<line x1="140.62" y1="211.33" x2="142.04" y2="212.66" stroke="rgb(246, 191, 190)" stroke-width="0.75" stroke-opacity="0.75" clip-path="url(#cd)"/>
<line x1="31.40" y1="154.30" x2="31.40" y2="253.00" stroke="#9a9a9a" stroke-width="1.0" />
<line x1="143.50" y1="154.30" x2="143.50" y2="253.00" stroke="#9a9a9a" stroke-width="1.0" />
<line x1="31.40" y1="154.30" x2="143.50" y2="154.30" stroke="#9a9a9a" stroke-width="1.0" />
<text x="82.00" y="147.00" font-size="13.5" text-anchor="start" style="font-family:'Liberation Serif',serif" fill="#2a2a2a" textLength="15.00" lengthAdjust="spacingAndGlyphs" >(d)</text>
<text x="93.61" y="166.60" font-size="9.4" font-style="italic" style="font-family:'Liberation Serif',serif" fill="#111" stroke="#111" stroke-width="0.15" textLength="4.48" lengthAdjust="spacingAndGlyphs">J</text>
<text x="100.99" y="167.73" font-size="12.22" style="font-family:'Liberation Serif',serif" fill="#111" stroke="#111" stroke-width="0" textLength="8.04" lengthAdjust="spacingAndGlyphs">=</text>
<text x="110.05" y="166.60" font-size="9.4" style="font-family:'Liberation Serif',serif" fill="#111" stroke="#111" stroke-width="0.15" textLength="10.38" lengthAdjust="spacingAndGlyphs">9.0</text>
<text x="122.60" y="166.60" font-size="9.4" style="font-family:'Liberation Serif',serif" fill="#111" stroke="#111" stroke-width="0.15" textLength="16.07" lengthAdjust="spacingAndGlyphs"><tspan font-style="italic">μ</tspan>eV</text>
<text x="30.80" y="154.80" font-size="8.6" text-anchor="end" dominant-baseline="central" style="font-family:'Liberation Sans',sans-serif;" fill="#222" stroke="#222" stroke-width="0.25">0.68</text>
<text x="30.80" y="174.90" font-size="8.6" text-anchor="end" dominant-baseline="central" style="font-family:'Liberation Sans',sans-serif;" fill="#222" stroke="#222" stroke-width="0.25">0.66</text>
<text x="30.80" y="194.60" font-size="8.6" text-anchor="end" dominant-baseline="central" style="font-family:'Liberation Sans',sans-serif;" fill="#222" stroke="#222" stroke-width="0.25">0.64</text>
<text x="30.80" y="214.60" font-size="8.6" text-anchor="end" dominant-baseline="central" style="font-family:'Liberation Sans',sans-serif;" fill="#222" stroke="#222" stroke-width="0.25">0.62</text>
<text x="30.80" y="235.00" font-size="8.6" text-anchor="end" dominant-baseline="central" style="font-family:'Liberation Sans',sans-serif;" fill="#222" stroke="#222" stroke-width="0.25">0.60</text>
<text x="30.80" y="254.80" font-size="8.6" text-anchor="end" dominant-baseline="central" style="font-family:'Liberation Sans',sans-serif;" fill="#222" stroke="#222" stroke-width="0.25">0.58</text>
<text transform="translate(9.4,219.0) rotate(-90) scale(1.3,1)" font-size="10.4" style="font-family:'Liberation Serif',serif" fill="#222" stroke="#222" stroke-width="0.18"><tspan font-style="italic">S</tspan><tspan font-style="italic" font-size="7.6" dy="1.8" dx="0.4" letter-spacing="0.3" stroke-width="0.08">AB</tspan></text>
<clipPath id="ce"><rect x="173.8" y="152.1" width="113.39999999999998" height="99.9"/></clipPath>
<linearGradient id="g1" gradientUnits="userSpaceOnUse" x1="175" y1="0" x2="286" y2="0"><stop offset="0.000" stop-color="rgb(240, 215, 240)"/><stop offset="0.080" stop-color="rgb(226, 218, 248)"/><stop offset="0.220" stop-color="rgb(222, 222, 250)"/><stop offset="0.360" stop-color="rgb(236, 238, 238)"/><stop offset="0.500" stop-color="rgb(225, 245, 225)"/><stop offset="0.680" stop-color="rgb(250, 250, 215)"/><stop offset="0.850" stop-color="rgb(252, 232, 222)"/><stop offset="1.000" stop-color="rgb(252, 222, 222)"/></linearGradient>
<polygon points="175.00,211.80 175.50,211.55 176.00,211.30 176.50,211.04 177.00,210.77 177.50,210.50 178.00,210.22 178.50,209.95 179.00,209.68 179.50,209.41 180.00,209.14 180.50,208.87 181.00,208.60 181.50,207.74 182.00,206.87 182.50,206.01 183.00,205.15 183.50,204.28 184.00,203.42 184.50,202.55 185.00,201.69 185.50,200.56 186.00,198.33 186.50,196.11 187.00,193.89 187.50,194.77 188.00,197.72 188.50,200.66 189.00,203.61 189.50,204.20 190.00,204.20 190.50,204.20 191.00,204.20 191.50,204.20 192.00,202.52 192.50,200.83 193.00,199.15 193.50,197.52 194.00,196.12 194.50,194.72 195.00,193.32 195.50,192.33 196.00,193.00 196.50,193.67 197.00,194.33 197.50,195.00 198.00,194.05 198.50,193.11 199.00,192.16 199.50,191.42 200.00,191.53 200.50,191.63 201.00,191.74 201.50,191.76 202.00,191.67 202.50,191.57 203.00,191.48 203.50,191.52 204.00,192.12 204.50,192.72 205.00,193.32 205.50,193.82 206.00,193.93 206.50,194.03 207.00,194.14 207.50,194.28 208.00,194.49 208.50,194.71 209.00,194.92 209.50,195.29 210.00,195.76 210.50,196.24 211.00,196.71 211.50,197.09 212.00,197.31 212.50,197.53 213.00,197.76 213.50,197.98 214.00,197.16 214.50,196.70 215.00,196.33 215.50,196.08 216.00,196.00 216.50,196.08 217.00,196.33 217.50,196.70 218.00,197.16 218.50,197.64 219.00,198.10 219.50,198.47 220.00,198.72 220.50,198.80 221.00,198.72 221.50,198.47 222.00,198.10 222.50,197.64 223.00,197.16 223.50,196.70 224.00,196.33 224.50,196.08 225.00,196.00 225.50,196.08 226.00,196.33 226.50,196.70 227.00,197.16 227.50,197.64 228.00,198.10 228.50,198.47 229.00,198.72 229.50,198.80 230.00,198.72 230.50,198.47 231.00,198.10 231.50,197.64 232.00,197.16 232.50,196.70 233.00,196.33 233.50,196.08 234.00,196.00 234.50,196.08 235.00,196.33 235.50,196.70 236.00,197.16 236.50,197.64 237.00,198.10 237.50,198.47 238.00,198.72 238.50,198.80 239.00,198.72 239.50,198.47 240.00,198.10 240.50,197.64 241.00,197.16 241.50,196.70 242.00,196.33 242.50,196.08 243.00,196.00 243.50,196.08 244.00,196.33 244.50,196.70 245.00,197.76 245.50,198.24 246.00,198.70 246.50,199.07 247.00,199.32 247.50,199.40 248.00,199.32 248.50,199.07 249.00,198.70 249.50,198.24 250.00,197.76 250.50,197.30 251.00,196.93 251.50,196.68 252.00,196.60 252.50,196.68 253.00,196.93 253.50,197.30 254.00,197.76 254.50,198.24 255.00,198.70 255.50,199.07 256.00,199.32 256.50,199.40 257.00,199.32 257.50,199.07 258.00,198.70 258.50,198.24 259.00,197.76 259.50,197.30 260.00,196.93 260.50,196.68 261.00,196.60 261.50,196.68 262.00,196.93 262.50,197.30 263.00,197.76 263.50,198.24 264.00,198.70 264.50,199.07 265.00,199.32 265.50,199.40 266.00,199.32 266.50,199.07 267.00,198.70 267.50,198.24 268.00,197.76 268.50,197.30 269.00,196.93 269.50,196.68 270.00,196.60 270.50,196.68 271.00,196.93 271.50,197.30 272.00,197.76 272.50,198.24 273.00,198.70 273.50,199.07 274.00,199.32 274.50,199.40 275.00,199.32 275.50,199.07 276.00,198.70 276.50,198.24 277.00,197.76 277.50,197.30 278.00,196.93 278.50,196.68 279.00,196.60 279.50,196.68 280.00,196.93 280.50,197.30 281.00,197.76 281.50,198.24 282.00,198.70 282.50,199.07 283.00,199.32 283.50,199.40 284.00,199.32 284.50,199.07 285.00,198.70 285.50,198.24 286.00,197.76 286.00,246.35 285.50,245.89 285.00,245.44 284.50,245.09 284.00,244.85 283.50,244.77 283.00,244.85 282.50,245.09 282.00,245.44 281.50,245.89 281.00,246.35 280.50,246.80 280.00,247.15 279.50,247.39 279.00,247.47 278.50,247.39 278.00,247.15 277.50,246.80 277.00,246.35 276.50,245.89 276.00,245.44 275.50,245.09 275.00,244.85 274.50,244.77 274.00,244.85 273.50,245.09 273.00,245.44 272.50,245.89 272.00,246.35 271.50,246.80 271.00,247.15 270.50,247.39 270.00,247.47 269.50,247.39 269.00,247.15 268.50,246.80 268.00,246.35 267.50,245.89 267.00,245.44 266.50,245.09 266.00,244.85 265.50,244.77 265.00,244.85 264.50,245.09 264.00,245.44 263.50,245.89 263.00,246.35 262.50,246.80 262.00,247.15 261.50,247.39 261.00,247.47 260.50,247.39 260.00,247.15 259.50,246.79 259.00,246.35 258.50,245.89 258.00,245.44 257.50,245.09 257.00,244.85 256.50,244.77 256.00,244.85 255.50,245.09 255.00,245.44 254.50,245.89 254.00,246.35 253.50,246.80 253.00,247.15 252.50,247.39 252.00,247.47 251.50,247.39 251.00,247.15 250.50,246.80 250.00,246.35 249.50,245.89 249.00,245.44 248.50,245.09 248.00,244.85 247.50,244.77 247.00,244.85 246.50,245.09 246.00,245.44 245.50,245.89 245.00,246.35 244.50,246.80 244.00,247.15 243.50,247.39 243.00,247.47 242.50,247.39 242.00,247.15 241.50,246.80 241.00,246.35 240.50,245.89 240.00,245.44 239.50,245.09 239.00,244.85 238.50,244.77 238.00,244.85 237.50,245.09 237.00,245.44 236.50,245.89 236.00,246.35 235.50,246.80 235.00,247.15 234.50,247.39 234.00,247.47 233.50,247.39 233.00,247.15 232.50,246.80 232.00,246.35 231.50,245.89 231.00,245.44 230.50,245.09 230.00,244.85 229.50,244.77 229.00,244.85 228.50,245.09 228.00,245.44 227.50,245.89 227.00,246.35 226.50,246.80 226.00,247.15 225.50,247.39 225.00,247.47 224.50,247.39 224.00,247.15 223.50,246.80 223.00,246.35 222.50,245.89 222.00,245.44 221.50,245.09 221.00,244.85 220.50,244.77 220.00,244.85 219.50,245.09 219.00,245.44 218.50,245.89 218.00,246.35 217.50,246.80 217.00,247.15 216.50,247.39 216.00,247.47 215.50,247.39 215.00,247.15 214.50,246.80 214.00,246.35 213.50,248.16 213.00,248.23 212.50,248.29 212.00,248.36 211.50,248.42 211.00,248.49 210.50,248.55 210.00,248.61 209.50,248.68 209.00,248.74 208.50,248.81 208.00,248.87 207.50,248.94 207.00,249.00 206.50,249.06 206.00,249.13 205.50,249.19 205.00,249.26 204.50,249.32 204.00,249.39 203.50,249.45 203.00,249.51 202.50,249.58 202.00,249.64 201.50,249.71 201.00,249.77 200.50,249.84 200.00,249.90 199.50,249.90 199.00,249.90 198.50,249.90 198.00,249.90 197.50,249.90 197.00,249.90 196.50,249.90 196.00,249.90 195.50,249.90 195.00,249.90 194.50,249.90 194.00,249.90 193.50,249.90 193.00,249.90 192.50,249.90 192.00,249.90 191.50,249.90 191.00,249.90 190.50,249.90 190.00,249.90 189.50,249.90 189.00,249.90 188.50,249.90 188.00,249.90 187.50,248.62 187.00,247.34 186.50,246.06 186.00,244.76 185.50,243.36 185.00,241.96 184.50,240.56 184.00,239.20 183.50,237.88 183.00,236.55 182.50,235.23 182.00,234.07 181.50,232.96 181.00,231.84 180.50,230.73 180.00,230.06 179.50,229.38 179.00,228.71 178.50,227.90 178.00,226.89 177.50,225.88 177.00,224.87 176.50,223.86 176.00,222.45 175.50,220.43 175.00,218.40" fill="url(#g1)" fill-opacity="1.0" clip-path="url(#ce)"/>
<line x1="175.00" y1="210.09" x2="175.00" y2="219.00" stroke="rgb(228, 170, 228)" stroke-width="0.85" stroke-opacity="0.80" clip-path="url(#ce)"/>
<line x1="176.98" y1="207.37" x2="176.98" y2="226.15" stroke="rgb(219, 170, 230)" stroke-width="0.85" stroke-opacity="0.80" clip-path="url(#ce)"/>
<line x1="178.96" y1="204.82" x2="178.96" y2="230.39" stroke="rgb(211, 170, 233)" stroke-width="0.85" stroke-opacity="0.80" clip-path="url(#ce)"/>
<line x1="180.94" y1="202.43" x2="180.94" y2="233.79" stroke="rgb(202, 170, 236)" stroke-width="0.85" stroke-opacity="0.80" clip-path="url(#ce)"/>
<line x1="182.92" y1="192.80" x2="182.92" y2="238.93" stroke="rgb(194, 170, 238)" stroke-width="0.85" stroke-opacity="0.80" clip-path="url(#ce)"/>
<line x1="184.90" y1="184.27" x2="184.90" y2="244.87" stroke="rgb(188, 169, 239)" stroke-width="0.85" stroke-opacity="0.80" clip-path="url(#ce)"/>
<line x1="186.88" y1="168.46" x2="186.88" y2="250.82" stroke="rgb(185, 169, 239)" stroke-width="0.85" stroke-opacity="0.80" clip-path="url(#ce)"/>
<line x1="188.86" y1="187.16" x2="188.86" y2="254.00" stroke="rgb(181, 168, 239)" stroke-width="0.85" stroke-opacity="0.80" clip-path="url(#ce)"/>
<line x1="190.84" y1="190.91" x2="190.84" y2="254.00" stroke="rgb(178, 167, 239)" stroke-width="0.85" stroke-opacity="0.80" clip-path="url(#ce)"/>
<line x1="192.82" y1="177.90" x2="192.82" y2="254.00" stroke="rgb(175, 167, 238)" stroke-width="0.85" stroke-opacity="0.80" clip-path="url(#ce)"/>
<line x1="194.80" y1="163.45" x2="194.80" y2="254.00" stroke="rgb(172, 166, 238)" stroke-width="0.85" stroke-opacity="0.80" clip-path="url(#ce)"/>
<line x1="196.78" y1="167.21" x2="196.78" y2="254.00" stroke="rgb(169, 165, 238)" stroke-width="0.85" stroke-opacity="0.80" clip-path="url(#ce)"/>
<line x1="198.76" y1="158.12" x2="198.76" y2="254.00" stroke="rgb(166, 165, 238)" stroke-width="0.85" stroke-opacity="0.80" clip-path="url(#ce)"/>
<line x1="200.74" y1="162.96" x2="200.74" y2="253.89" stroke="rgb(167, 168, 235)" stroke-width="0.85" stroke-opacity="0.80" clip-path="url(#ce)"/>
<line x1="202.72" y1="160.03" x2="202.72" y2="253.61" stroke="rgb(172, 173, 232)" stroke-width="0.85" stroke-opacity="0.80" clip-path="url(#ce)"/>
<line x1="204.70" y1="160.84" x2="204.70" y2="253.33" stroke="rgb(176, 178, 229)" stroke-width="0.85" stroke-opacity="0.80" clip-path="url(#ce)"/>
<line x1="206.68" y1="168.31" x2="206.68" y2="253.05" stroke="rgb(181, 184, 225)" stroke-width="0.85" stroke-opacity="0.80" clip-path="url(#ce)"/>
<line x1="208.66" y1="167.51" x2="208.66" y2="252.76" stroke="rgb(185, 189, 222)" stroke-width="0.85" stroke-opacity="0.80" clip-path="url(#ce)"/>
<line x1="210.64" y1="174.49" x2="210.64" y2="252.48" stroke="rgb(190, 194, 219)" stroke-width="0.85" stroke-opacity="0.80" clip-path="url(#ce)"/>
<line x1="212.62" y1="173.43" x2="212.62" y2="252.20" stroke="rgb(194, 199, 215)" stroke-width="0.85" stroke-opacity="0.80" clip-path="url(#ce)"/>
<line x1="214.60" y1="170.31" x2="214.60" y2="250.64" stroke="rgb(199, 205, 212)" stroke-width="0.85" stroke-opacity="0.80" clip-path="url(#ce)"/>
<line x1="216.58" y1="170.29" x2="216.58" y2="251.18" stroke="rgb(196, 208, 207)" stroke-width="0.85" stroke-opacity="0.80" clip-path="url(#ce)"/>
<line x1="218.56" y1="172.45" x2="218.56" y2="249.48" stroke="rgb(191, 210, 201)" stroke-width="0.85" stroke-opacity="0.80" clip-path="url(#ce)"/>
<line x1="220.54" y1="178.56" x2="220.54" y2="248.30" stroke="rgb(187, 213, 195)" stroke-width="0.85" stroke-opacity="0.80" clip-path="url(#ce)"/>
<line x1="222.52" y1="173.36" x2="222.52" y2="249.56" stroke="rgb(182, 215, 189)" stroke-width="0.85" stroke-opacity="0.80" clip-path="url(#ce)"/>
<line x1="224.50" y1="170.07" x2="224.50" y2="251.21" stroke="rgb(178, 218, 183)" stroke-width="0.85" stroke-opacity="0.80" clip-path="url(#ce)"/>
<line x1="226.48" y1="171.69" x2="226.48" y2="250.57" stroke="rgb(174, 220, 177)" stroke-width="0.85" stroke-opacity="0.80" clip-path="url(#ce)"/>
<line x1="228.46" y1="176.87" x2="228.46" y2="248.68" stroke="rgb(169, 223, 171)" stroke-width="0.85" stroke-opacity="0.80" clip-path="url(#ce)"/>
<line x1="230.44" y1="174.80" x2="230.44" y2="248.61" stroke="rgb(165, 225, 165)" stroke-width="0.85" stroke-opacity="0.80" clip-path="url(#ce)"/>
<line x1="232.42" y1="169.53" x2="232.42" y2="250.48" stroke="rgb(171, 226, 163)" stroke-width="0.85" stroke-opacity="0.80" clip-path="url(#ce)"/>
<line x1="234.40" y1="170.81" x2="234.40" y2="251.24" stroke="rgb(177, 226, 161)" stroke-width="0.85" stroke-opacity="0.80" clip-path="url(#ce)"/>
<line x1="236.38" y1="173.30" x2="236.38" y2="249.66" stroke="rgb(184, 227, 159)" stroke-width="0.85" stroke-opacity="0.80" clip-path="url(#ce)"/>
<line x1="238.36" y1="179.98" x2="238.36" y2="248.31" stroke="rgb(190, 227, 157)" stroke-width="0.85" stroke-opacity="0.80" clip-path="url(#ce)"/>
<line x1="240.34" y1="173.76" x2="240.34" y2="249.38" stroke="rgb(197, 227, 155)" stroke-width="0.85" stroke-opacity="0.80" clip-path="url(#ce)"/>
<line x1="242.32" y1="169.90" x2="242.32" y2="251.13" stroke="rgb(203, 228, 153)" stroke-width="0.85" stroke-opacity="0.80" clip-path="url(#ce)"/>
<line x1="244.30" y1="168.60" x2="244.30" y2="250.72" stroke="rgb(209, 228, 151)" stroke-width="0.85" stroke-opacity="0.80" clip-path="url(#ce)"/>
<line x1="246.28" y1="175.99" x2="246.28" y2="248.81" stroke="rgb(216, 229, 149)" stroke-width="0.85" stroke-opacity="0.80" clip-path="url(#ce)"/>
<line x1="248.26" y1="179.71" x2="248.26" y2="248.51" stroke="rgb(222, 229, 147)" stroke-width="0.85" stroke-opacity="0.80" clip-path="url(#ce)"/>
<line x1="250.24" y1="175.03" x2="250.24" y2="250.30" stroke="rgb(229, 229, 145)" stroke-width="0.85" stroke-opacity="0.80" clip-path="url(#ce)"/>
<line x1="252.22" y1="170.94" x2="252.22" y2="251.28" stroke="rgb(231, 227, 147)" stroke-width="0.85" stroke-opacity="0.80" clip-path="url(#ce)"/>
<line x1="254.20" y1="178.25" x2="254.20" y2="249.85" stroke="rgb(232, 223, 150)" stroke-width="0.85" stroke-opacity="0.80" clip-path="url(#ce)"/>
<line x1="256.18" y1="179.12" x2="256.18" y2="248.34" stroke="rgb(234, 220, 153)" stroke-width="0.85" stroke-opacity="0.80" clip-path="url(#ce)"/>
<line x1="258.16" y1="178.82" x2="258.16" y2="249.20" stroke="rgb(236, 216, 155)" stroke-width="0.85" stroke-opacity="0.80" clip-path="url(#ce)"/>
<line x1="260.14" y1="175.09" x2="260.14" y2="251.04" stroke="rgb(237, 213, 158)" stroke-width="0.85" stroke-opacity="0.80" clip-path="url(#ce)"/>
<line x1="262.12" y1="175.84" x2="262.12" y2="250.86" stroke="rgb(239, 210, 161)" stroke-width="0.85" stroke-opacity="0.80" clip-path="url(#ce)"/>
<line x1="264.10" y1="175.93" x2="264.10" y2="248.96" stroke="rgb(240, 206, 164)" stroke-width="0.85" stroke-opacity="0.80" clip-path="url(#ce)"/>
<line x1="266.08" y1="180.75" x2="266.08" y2="248.42" stroke="rgb(242, 203, 167)" stroke-width="0.85" stroke-opacity="0.80" clip-path="url(#ce)"/>
<line x1="268.06" y1="176.29" x2="268.06" y2="250.12" stroke="rgb(243, 200, 170)" stroke-width="0.85" stroke-opacity="0.80" clip-path="url(#ce)"/>
<line x1="270.04" y1="172.72" x2="270.04" y2="251.30" stroke="rgb(245, 197, 172)" stroke-width="0.85" stroke-opacity="0.80" clip-path="url(#ce)"/>
<line x1="272.02" y1="172.68" x2="272.02" y2="250.04" stroke="rgb(245, 194, 172)" stroke-width="0.85" stroke-opacity="0.80" clip-path="url(#ce)"/>
<line x1="274.00" y1="181.08" x2="274.00" y2="248.39" stroke="rgb(245, 192, 173)" stroke-width="0.85" stroke-opacity="0.80" clip-path="url(#ce)"/>
<line x1="275.98" y1="177.58" x2="275.98" y2="249.03" stroke="rgb(245, 190, 174)" stroke-width="0.85" stroke-opacity="0.80" clip-path="url(#ce)"/>
<line x1="277.96" y1="172.57" x2="277.96" y2="250.92" stroke="rgb(245, 187, 175)" stroke-width="0.85" stroke-opacity="0.80" clip-path="url(#ce)"/>
<line x1="279.94" y1="170.26" x2="279.94" y2="250.99" stroke="rgb(245, 185, 175)" stroke-width="0.85" stroke-opacity="0.80" clip-path="url(#ce)"/>
<line x1="281.92" y1="175.24" x2="281.92" y2="249.12" stroke="rgb(245, 182, 176)" stroke-width="0.85" stroke-opacity="0.80" clip-path="url(#ce)"/>
<line x1="283.90" y1="176.88" x2="283.90" y2="248.36" stroke="rgb(245, 180, 177)" stroke-width="0.85" stroke-opacity="0.80" clip-path="url(#ce)"/>
<line x1="285.88" y1="176.52" x2="285.88" y2="249.94" stroke="rgb(245, 178, 177)" stroke-width="0.85" stroke-opacity="0.80" clip-path="url(#ce)"/>
<line x1="173.80" y1="213.00" x2="287.20" y2="213.00" stroke="rgba(120,120,120,0.32)" stroke-width="0.8" />
<line x1="173.80" y1="152.10" x2="173.80" y2="253.00" stroke="#9a9a9a" stroke-width="1.0" />
<line x1="287.20" y1="152.10" x2="287.20" y2="253.00" stroke="#9a9a9a" stroke-width="1.0" />
<line x1="173.80" y1="152.10" x2="287.20" y2="152.10" stroke="#9a9a9a" stroke-width="1.0" />
<text x="225.20" y="145.70" font-size="13.5" text-anchor="start" style="font-family:'Liberation Serif',serif" fill="#2a2a2a" textLength="13.70" lengthAdjust="spacingAndGlyphs" >(e)</text>
<text x="233.90" y="164.30" font-size="9.2" font-style="italic" style="font-family:'Liberation Serif',serif" fill="#111" stroke="#111" stroke-width="0.15" textLength="4.90" lengthAdjust="spacingAndGlyphs">J</text>
<text x="241.54" y="165.40" font-size="11.959999999999999" style="font-family:'Liberation Serif',serif" fill="#111" stroke="#111" stroke-width="0" textLength="8.52" lengthAdjust="spacingAndGlyphs">=</text>
<text x="250.56" y="164.30" font-size="9.2" style="font-family:'Liberation Serif',serif" fill="#111" stroke="#111" stroke-width="0.15" textLength="16.30" lengthAdjust="spacingAndGlyphs">12.2</text>
<text x="268.20" y="164.30" font-size="9.2" style="font-family:'Liberation Serif',serif" fill="#111" stroke="#111" stroke-width="0.15" textLength="16.17" lengthAdjust="spacingAndGlyphs"><tspan font-style="italic">μ</tspan>eV</text>
<text x="172.80" y="158.30" font-size="8.6" text-anchor="end" dominant-baseline="central" style="font-family:'Liberation Sans',sans-serif;" fill="#222" stroke="#222" stroke-width="0.25">1.0</text>
<text x="172.80" y="185.80" font-size="8.6" text-anchor="end" dominant-baseline="central" style="font-family:'Liberation Sans',sans-serif;" fill="#222" stroke="#222" stroke-width="0.25">0.5</text>
<text x="172.80" y="213.30" font-size="8.6" text-anchor="end" dominant-baseline="central" style="font-family:'Liberation Sans',sans-serif;" fill="#222" stroke="#222" stroke-width="0.25">0.0</text>
<text x="172.80" y="240.80" font-size="8.6" text-anchor="end" dominant-baseline="central" style="font-family:'Liberation Sans',sans-serif;" fill="#222" stroke="#222" stroke-width="0.25">−0.5</text>
<clipPath id="cf"><rect x="329.8" y="151.5" width="113.89999999999998" height="100.5"/></clipPath>
<line x1="332.00" y1="157.50" x2="332.00" y2="262.50" stroke="rgb(226, 176, 234)" stroke-width="1.0" stroke-opacity="0.90" clip-path="url(#cf)"/>
<line x1="333.00" y1="160.28" x2="333.00" y2="259.72" stroke="rgb(224, 176, 234)" stroke-width="1.0" stroke-opacity="0.90" clip-path="url(#cf)"/>
<line x1="334.00" y1="162.92" x2="334.00" y2="257.08" stroke="rgb(222, 176, 235)" stroke-width="1.0" stroke-opacity="0.90" clip-path="url(#cf)"/>
<line x1="335.00" y1="165.41" x2="335.00" y2="254.59" stroke="rgb(221, 176, 236)" stroke-width="1.0" stroke-opacity="0.90" clip-path="url(#cf)"/>
<line x1="336.00" y1="167.77" x2="336.00" y2="252.23" stroke="rgb(219, 176, 236)" stroke-width="1.0" stroke-opacity="0.90" clip-path="url(#cf)"/>
<line x1="337.00" y1="170.00" x2="337.00" y2="250.00" stroke="rgb(217, 177, 237)" stroke-width="1.0" stroke-opacity="0.90" clip-path="url(#cf)"/>
<line x1="338.00" y1="172.12" x2="338.00" y2="247.88" stroke="rgb(216, 177, 238)" stroke-width="1.0" stroke-opacity="0.90" clip-path="url(#cf)"/>
<line x1="339.00" y1="174.12" x2="339.00" y2="245.88" stroke="rgb(214, 177, 238)" stroke-width="1.0" stroke-opacity="0.90" clip-path="url(#cf)"/>
<line x1="340.00" y1="176.01" x2="340.00" y2="243.99" stroke="rgb(213, 177, 239)" stroke-width="1.0" stroke-opacity="0.90" clip-path="url(#cf)"/>
<line x1="341.00" y1="177.80" x2="341.00" y2="242.20" stroke="rgb(211, 178, 240)" stroke-width="1.0" stroke-opacity="0.90" clip-path="url(#cf)"/>
<line x1="342.00" y1="179.50" x2="342.00" y2="240.50" stroke="rgb(207, 178, 240)" stroke-width="1.0" stroke-opacity="0.90" clip-path="url(#cf)"/>
<line x1="343.00" y1="181.53" x2="343.00" y2="238.47" stroke="rgb(204, 179, 241)" stroke-width="1.0" stroke-opacity="0.90" clip-path="url(#cf)"/>
<line x1="344.00" y1="183.42" x2="344.00" y2="236.58" stroke="rgb(201, 179, 241)" stroke-width="1.0" stroke-opacity="0.90" clip-path="url(#cf)"/>
<line x1="345.00" y1="185.18" x2="345.00" y2="234.82" stroke="rgb(198, 180, 242)" stroke-width="1.0" stroke-opacity="0.90" clip-path="url(#cf)"/>
<line x1="346.00" y1="186.83" x2="346.00" y2="233.17" stroke="rgb(195, 180, 242)" stroke-width="1.0" stroke-opacity="0.90" clip-path="url(#cf)"/>
<line x1="347.00" y1="188.36" x2="347.00" y2="231.64" stroke="rgb(192, 181, 243)" stroke-width="1.0" stroke-opacity="0.89" clip-path="url(#cf)"/>
<line x1="348.00" y1="189.79" x2="348.00" y2="230.21" stroke="rgb(189, 181, 243)" stroke-width="1.0" stroke-opacity="0.83" clip-path="url(#cf)"/>
<line x1="349.00" y1="191.12" x2="349.00" y2="228.88" stroke="rgb(187, 182, 243)" stroke-width="1.0" stroke-opacity="0.77" clip-path="url(#cf)"/>
<line x1="350.00" y1="192.36" x2="350.00" y2="227.64" stroke="rgb(187, 183, 243)" stroke-width="1.0" stroke-opacity="0.72" clip-path="url(#cf)"/>
<line x1="351.00" y1="193.52" x2="351.00" y2="226.48" stroke="rgb(186, 184, 242)" stroke-width="1.0" stroke-opacity="0.68" clip-path="url(#cf)"/>
<line x1="352.00" y1="194.60" x2="352.00" y2="225.40" stroke="rgb(186, 184, 242)" stroke-width="1.0" stroke-opacity="0.63" clip-path="url(#cf)"/>
<line x1="353.00" y1="195.61" x2="353.00" y2="224.39" stroke="rgb(185, 185, 241)" stroke-width="1.0" stroke-opacity="0.59" clip-path="url(#cf)"/>
<line x1="354.00" y1="196.55" x2="354.00" y2="223.45" stroke="rgb(185, 186, 241)" stroke-width="1.0" stroke-opacity="0.55" clip-path="url(#cf)"/>
<line x1="355.00" y1="197.42" x2="355.00" y2="222.58" stroke="rgb(184, 187, 240)" stroke-width="1.0" stroke-opacity="0.52" clip-path="url(#cf)"/>
<line x1="356.00" y1="198.24" x2="356.00" y2="221.76" stroke="rgb(184, 188, 239)" stroke-width="1.0" stroke-opacity="0.48" clip-path="url(#cf)"/>
<line x1="357.00" y1="199.00" x2="357.00" y2="221.00" stroke="rgb(185, 190, 236)" stroke-width="1.0" stroke-opacity="0.45" clip-path="url(#cf)"/>
<line x1="358.00" y1="199.71" x2="358.00" y2="220.29" stroke="rgb(186, 193, 233)" stroke-width="1.0" stroke-opacity="0.42" clip-path="url(#cf)"/>
<line x1="359.00" y1="200.37" x2="359.00" y2="219.63" stroke="rgb(187, 196, 229)" stroke-width="1.0" stroke-opacity="0.40" clip-path="url(#cf)"/>
<line x1="360.00" y1="200.99" x2="360.00" y2="219.01" stroke="rgb(189, 199, 226)" stroke-width="1.0" stroke-opacity="0.37" clip-path="url(#cf)"/>
<line x1="361.00" y1="201.57" x2="361.00" y2="218.43" stroke="rgb(190, 201, 222)" stroke-width="1.0" stroke-opacity="0.35" clip-path="url(#cf)"/>
<line x1="362.00" y1="202.10" x2="362.00" y2="217.90" stroke="rgb(191, 204, 219)" stroke-width="1.0" stroke-opacity="0.33" clip-path="url(#cf)"/>
<line x1="363.00" y1="202.60" x2="363.00" y2="217.40" stroke="rgb(192, 207, 215)" stroke-width="1.0" stroke-opacity="0.31" clip-path="url(#cf)"/>
<line x1="364.00" y1="203.07" x2="364.00" y2="216.93" stroke="rgb(194, 210, 212)" stroke-width="1.0" stroke-opacity="0.29" clip-path="url(#cf)"/>
<line x1="365.00" y1="203.50" x2="365.00" y2="216.50" stroke="rgb(193, 212, 207)" stroke-width="1.0" stroke-opacity="0.27" clip-path="url(#cf)"/>
<line x1="366.00" y1="203.91" x2="366.00" y2="216.09" stroke="rgb(188, 214, 201)" stroke-width="1.0" stroke-opacity="0.25" clip-path="url(#cf)"/>
<line x1="367.00" y1="204.29" x2="367.00" y2="215.71" stroke="rgb(183, 215, 194)" stroke-width="1.0" stroke-opacity="0.25" clip-path="url(#cf)"/>
<line x1="368.00" y1="204.64" x2="368.00" y2="215.36" stroke="rgb(177, 217, 187)" stroke-width="1.0" stroke-opacity="0.25" clip-path="url(#cf)"/>
<line x1="369.00" y1="204.97" x2="369.00" y2="215.03" stroke="rgb(172, 218, 180)" stroke-width="1.0" stroke-opacity="0.25" clip-path="url(#cf)"/>
<line x1="370.00" y1="205.27" x2="370.00" y2="214.73" stroke="rgb(167, 220, 173)" stroke-width="1.0" stroke-opacity="0.25" clip-path="url(#cf)"/>
<line x1="371.00" y1="205.56" x2="371.00" y2="214.44" stroke="rgb(162, 222, 166)" stroke-width="1.0" stroke-opacity="0.25" clip-path="url(#cf)"/>
<line x1="372.00" y1="205.83" x2="372.00" y2="214.17" stroke="rgb(157, 223, 159)" stroke-width="1.0" stroke-opacity="0.25" clip-path="url(#cf)"/>
<line x1="373.00" y1="206.07" x2="373.00" y2="213.93" stroke="rgb(152, 225, 152)" stroke-width="1.0" stroke-opacity="0.25" clip-path="url(#cf)"/>
<line x1="374.00" y1="206.31" x2="374.00" y2="213.69" stroke="rgb(152, 226, 149)" stroke-width="1.0" stroke-opacity="0.25" clip-path="url(#cf)"/>
<line x1="375.00" y1="206.52" x2="375.00" y2="213.48" stroke="rgb(156, 226, 148)" stroke-width="1.0" stroke-opacity="0.25" clip-path="url(#cf)"/>
<line x1="376.00" y1="206.72" x2="376.00" y2="213.28" stroke="rgb(160, 227, 148)" stroke-width="1.0" stroke-opacity="0.25" clip-path="url(#cf)"/>
<line x1="377.00" y1="206.91" x2="377.00" y2="213.09" stroke="rgb(165, 227, 147)" stroke-width="1.0" stroke-opacity="0.25" clip-path="url(#cf)"/>
<line x1="378.00" y1="207.09" x2="378.00" y2="212.91" stroke="rgb(169, 228, 146)" stroke-width="1.0" stroke-opacity="0.25" clip-path="url(#cf)"/>
<line x1="379.00" y1="207.25" x2="379.00" y2="212.75" stroke="rgb(173, 228, 145)" stroke-width="1.0" stroke-opacity="0.25" clip-path="url(#cf)"/>
<line x1="380.00" y1="207.40" x2="380.00" y2="212.60" stroke="rgb(177, 229, 144)" stroke-width="1.0" stroke-opacity="0.25" clip-path="url(#cf)"/>
<line x1="381.00" y1="207.54" x2="381.00" y2="212.46" stroke="rgb(181, 229, 144)" stroke-width="1.0" stroke-opacity="0.25" clip-path="url(#cf)"/>
<line x1="382.00" y1="207.68" x2="382.00" y2="212.32" stroke="rgb(186, 229, 143)" stroke-width="1.0" stroke-opacity="0.25" clip-path="url(#cf)"/>
<line x1="383.00" y1="207.80" x2="383.00" y2="212.20" stroke="rgb(190, 230, 142)" stroke-width="1.0" stroke-opacity="0.25" clip-path="url(#cf)"/>
<linearGradient id="g2" gradientUnits="userSpaceOnUse" x1="332" y1="0" x2="441" y2="0"><stop offset="0.000" stop-color="rgb(226, 176, 234)"/><stop offset="0.080" stop-color="rgb(212, 178, 240)"/><stop offset="0.150" stop-color="rgb(188, 182, 244)"/><stop offset="0.220" stop-color="rgb(184, 188, 240)"/><stop offset="0.300" stop-color="rgb(195, 212, 210)"/><stop offset="0.380" stop-color="rgb(150, 226, 150)"/><stop offset="0.500" stop-color="rgb(205, 232, 140)"/><stop offset="0.600" stop-color="rgb(238, 234, 160)"/><stop offset="0.800" stop-color="rgb(246, 205, 195)"/><stop offset="1.000" stop-color="rgb(246, 190, 190)"/></linearGradient>
<polyline points="340.00,243.99 341.60,178.83 343.20,238.08 344.80,184.84 346.40,232.55 348.00,189.79 349.60,228.12 351.20,193.74 352.80,224.59 354.40,196.91 356.00,221.76 357.60,199.43 359.20,219.50 360.80,201.45 362.40,217.69 364.00,203.07 365.60,216.25 367.20,204.36 368.80,215.10 370.40,205.39 372.00,214.17 373.60,206.22 375.20,213.44 376.80,206.87 378.40,212.85 380.00,207.40 381.60,212.38 383.20,207.82 384.80,212.00 386.40,208.16 388.00,211.70 389.60,208.43 391.20,211.46 392.80,208.64 394.40,211.27 396.00,208.82 397.60,211.11 399.20,208.95 400.80,210.99 402.40,209.06 404.00,210.89 405.60,209.15 407.20,210.81 408.80,209.22 410.40,210.75 412.00,209.28 413.60,210.70 415.20,209.32 416.80,210.66 418.40,209.36 420.00,210.63 421.60,209.39 423.20,210.60 424.80,209.41 426.40,210.58 428.00,209.43 429.60,210.57 431.20,209.44 432.80,210.55 434.40,209.45 436.00,210.54 437.60,209.46 439.20,210.53 440.80,209.47" fill="none" stroke="url(#g2)" stroke-width="0.6" stroke-opacity="0.8" clip-path="url(#cf)"/>
<polyline points="341.60,241.17 343.20,181.92 344.80,235.16 346.40,187.45 348.00,230.21 349.60,191.88 351.20,226.26 352.80,195.41 354.40,223.09 356.00,198.24 357.60,220.57 359.20,200.50 360.80,218.55 362.40,202.31 364.00,216.93 365.60,203.75 367.20,215.64 368.80,204.90 370.40,214.61 372.00,205.83 373.60,213.78 375.20,206.56 376.80,213.13 378.40,207.15 380.00,212.60 381.60,207.62 383.20,212.18 384.80,208.00 386.40,211.84 388.00,208.30 389.60,211.57 391.20,208.54 392.80,211.36 394.40,208.73 396.00,211.18 397.60,208.89 399.20,211.05 400.80,209.01 402.40,210.94 404.00,209.11 405.60,210.85 407.20,209.19 408.80,210.78 410.40,209.25 412.00,210.72 413.60,209.30 415.20,210.68 416.80,209.34 418.40,210.64 420.00,209.37 421.60,210.61 423.20,209.40 424.80,210.59 426.40,209.42 428.00,210.57 429.60,209.43 431.20,210.56 432.80,209.45 434.40,210.55 436.00,209.46 437.60,210.54 439.20,209.47 440.80,210.53" fill="none" stroke="url(#g2)" stroke-width="0.6" stroke-opacity="0.8" clip-path="url(#cf)"/>
<line x1="370" y1="210.00" x2="441" y2="210.00" stroke="url(#g2)" stroke-width="1.0" stroke-opacity="0.9"/>
<line x1="329.80" y1="151.50" x2="329.80" y2="253.00" stroke="#9a9a9a" stroke-width="1.0" />
<line x1="443.70" y1="151.50" x2="443.70" y2="253.00" stroke="#9a9a9a" stroke-width="1.0" />
<line x1="329.80" y1="151.50" x2="443.70" y2="151.50" stroke="#9a9a9a" stroke-width="1.0" />
<text x="380.20" y="145.00" font-size="13.5" text-anchor="start" style="font-family:'Liberation Serif',serif" fill="#2a2a2a" textLength="12.80" lengthAdjust="spacingAndGlyphs" >(f)</text>
<text x="388.80" y="164.00" font-size="9.0" font-style="italic" style="font-family:'Liberation Serif',serif" fill="#111" stroke="#111" stroke-width="0.15" textLength="5.00" lengthAdjust="spacingAndGlyphs">J</text>
<text x="396.26" y="165.08" font-size="11.700000000000001" style="font-family:'Liberation Serif',serif" fill="#111" stroke="#111" stroke-width="0" textLength="8.40" lengthAdjust="spacingAndGlyphs">=</text>
<text x="405.24" y="164.00" font-size="9.0" style="font-family:'Liberation Serif',serif" fill="#111" stroke="#111" stroke-width="0.15" textLength="16.74" lengthAdjust="spacingAndGlyphs">16.0</text>
<text x="423.00" y="164.00" font-size="9.0" style="font-family:'Liberation Serif',serif" fill="#111" stroke="#111" stroke-width="0.15" textLength="16.78" lengthAdjust="spacingAndGlyphs"><tspan font-style="italic">μ</tspan>eV</text>
<text x="328.7" y="155.20" font-size="8.6" text-anchor="end" dominant-baseline="central" style="font-family:'Liberation Sans',sans-serif" fill="#222" stroke="#222" stroke-width="0.25" textLength="24" lengthAdjust="spacing">−0.42</text>
<text x="328.7" y="171.90" font-size="8.6" text-anchor="end" dominant-baseline="central" style="font-family:'Liberation Sans',sans-serif" fill="#222" stroke="#222" stroke-width="0.25" textLength="24" lengthAdjust="spacing">−0.44</text>
<text x="328.7" y="188.60" font-size="8.6" text-anchor="end" dominant-baseline="central" style="font-family:'Liberation Sans',sans-serif" fill="#222" stroke="#222" stroke-width="0.25" textLength="24" lengthAdjust="spacing">−0.46</text>
<text x="328.7" y="205.30" font-size="8.6" text-anchor="end" dominant-baseline="central" style="font-family:'Liberation Sans',sans-serif" fill="#222" stroke="#222" stroke-width="0.25" textLength="24" lengthAdjust="spacing">−0.48</text>
<text x="328.7" y="222.00" font-size="8.6" text-anchor="end" dominant-baseline="central" style="font-family:'Liberation Sans',sans-serif" fill="#222" stroke="#222" stroke-width="0.25" textLength="24" lengthAdjust="spacing">−0.50</text>
<text x="328.7" y="238.70" font-size="8.6" text-anchor="end" dominant-baseline="central" style="font-family:'Liberation Sans',sans-serif" fill="#222" stroke="#222" stroke-width="0.25" textLength="24" lengthAdjust="spacing">−0.52</text></svg></body></html>
